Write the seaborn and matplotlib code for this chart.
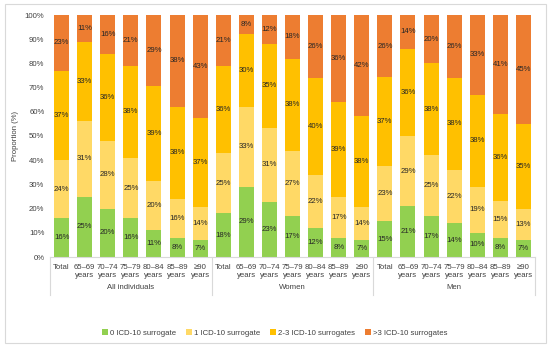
import numpy as np
import pandas as pd
import matplotlib
matplotlib.use("Agg")
import matplotlib.pyplot as plt
import matplotlib.transforms as mtransforms
from matplotlib.patches import Patch, Rectangle
import seaborn as sns

groups = ["All individuals", "Women", "Men"]
ages = ["Total", "65\u201369\nyears", "70\u201374\nyears", "75\u201379\nyears",
        "80\u201384\nyears", "85\u201389\nyears", "\u226590\nyears"]
series = ["0 ICD-10 surrogate", "1 ICD-10 surrogate",
          "2-3 ICD-10 surrogates", ">3 ICD-10 surrogates"]
colors = ["#92D050", "#FFD966", "#FFC000", "#ED7D31"]

# proportions (%) per bar, order: All individuals, Women, Men
zero = [16, 25, 20, 16, 11, 8, 7,
        18, 29, 23, 17, 12, 8, 7,
        15, 21, 17, 14, 10, 8, 7]
one = [24, 31, 28, 25, 20, 16, 14,
       25, 33, 31, 27, 22, 17, 14,
       23, 29, 25, 22, 19, 15, 13]
two_three = [37, 33, 36, 38, 39, 38, 37,
             36, 30, 35, 38, 40, 39, 38,
             37, 36, 38, 38, 38, 36, 35]
more3 = [23, 11, 16, 21, 29, 38, 43,
         21, 8, 12, 18, 26, 36, 42,
         26, 14, 20, 26, 33, 41, 45]

plt.rcParams["font.family"] = ["Liberation Sans", "DejaVu Sans"]
fs = 5.6
txt = "#404040"

vals = np.array([zero, one, two_three, more3], dtype=float)
# rounded shares don't always add to 100, rescale the stacks so they fill the bar
shares = vals / vals.sum(axis=0) * 100
cum = np.cumsum(shares, axis=0)
n = vals.shape[1]
df = pd.DataFrame({"bar": np.arange(n)})
for i in range(4):
    df[f"cum{i}"] = cum[i]

fig = plt.figure(figsize=(5.5, 3.47), dpi=100)
ax = fig.add_axes([50 / 550, 1 - 257 / 347, 485 / 550, 242 / 347])

for i in range(3, -1, -1):
    sns.barplot(data=df, x="bar", y=f"cum{i}", color=colors[i], width=0.65,
                saturation=1, ax=ax, errorbar=None)

for i in range(4):
    for j in range(n):
        mid = cum[i, j] - shares[i, j] / 2
        ax.text(j, mid, f"{int(vals[i, j])}%", ha="center", va="center",
                fontsize=fs, color="#262626")

ax.set_xlim(-0.5, n - 0.5)
ax.set_ylim(0, 100)
ax.set_yticks(np.arange(0, 101, 10))
ax.set_yticklabels([f"{v}%" for v in range(0, 101, 10)])
ax.set_xticks(np.arange(n))
ax.set_xticklabels(ages * 3, linespacing=1.25)
ax.tick_params(axis="both", length=0, labelsize=fs, colors=txt, pad=4)
ax.tick_params(axis="x", pad=5)
ax.set_xlabel("")
ax.set_ylabel("Proportion (%)", fontsize=fs, color=txt, labelpad=4)

for s in ["top", "right", "left"]:
    ax.spines[s].set_visible(False)
ax.spines["bottom"].set_color("#D9D9D9")
ax.spines["bottom"].set_linewidth(0.8)

trans = mtransforms.blended_transform_factory(ax.transData, ax.transAxes)
for b in [-0.5, 6.5, 13.5, 20.5]:
    ax.plot([b, b], [0, -0.157], transform=trans, color="#D9D9D9",
            lw=0.8, clip_on=False)
for k, g in enumerate(groups):
    ax.text(k * 7 + 3, -0.128, g, transform=trans, ha="center", va="center",
            fontsize=fs, color=txt)

handles = [Patch(facecolor=c, edgecolor="none") for c in colors]
fig.legend(handles, series, loc="center", bbox_to_anchor=(0.5, 1 - 333 / 347),
           ncol=4, frameon=False, fontsize=fs, handlelength=0.7,
           handleheight=0.7, handletextpad=0.3, columnspacing=1.3,
           labelcolor=txt)

fig.patches.append(Rectangle((5 / 550, 4 / 347), 541 / 550, 339 / 347,
                             transform=fig.transFigure, fill=False,
                             edgecolor="#D9D9D9", lw=0.8))

fig.savefig("out.png", dpi=100)
